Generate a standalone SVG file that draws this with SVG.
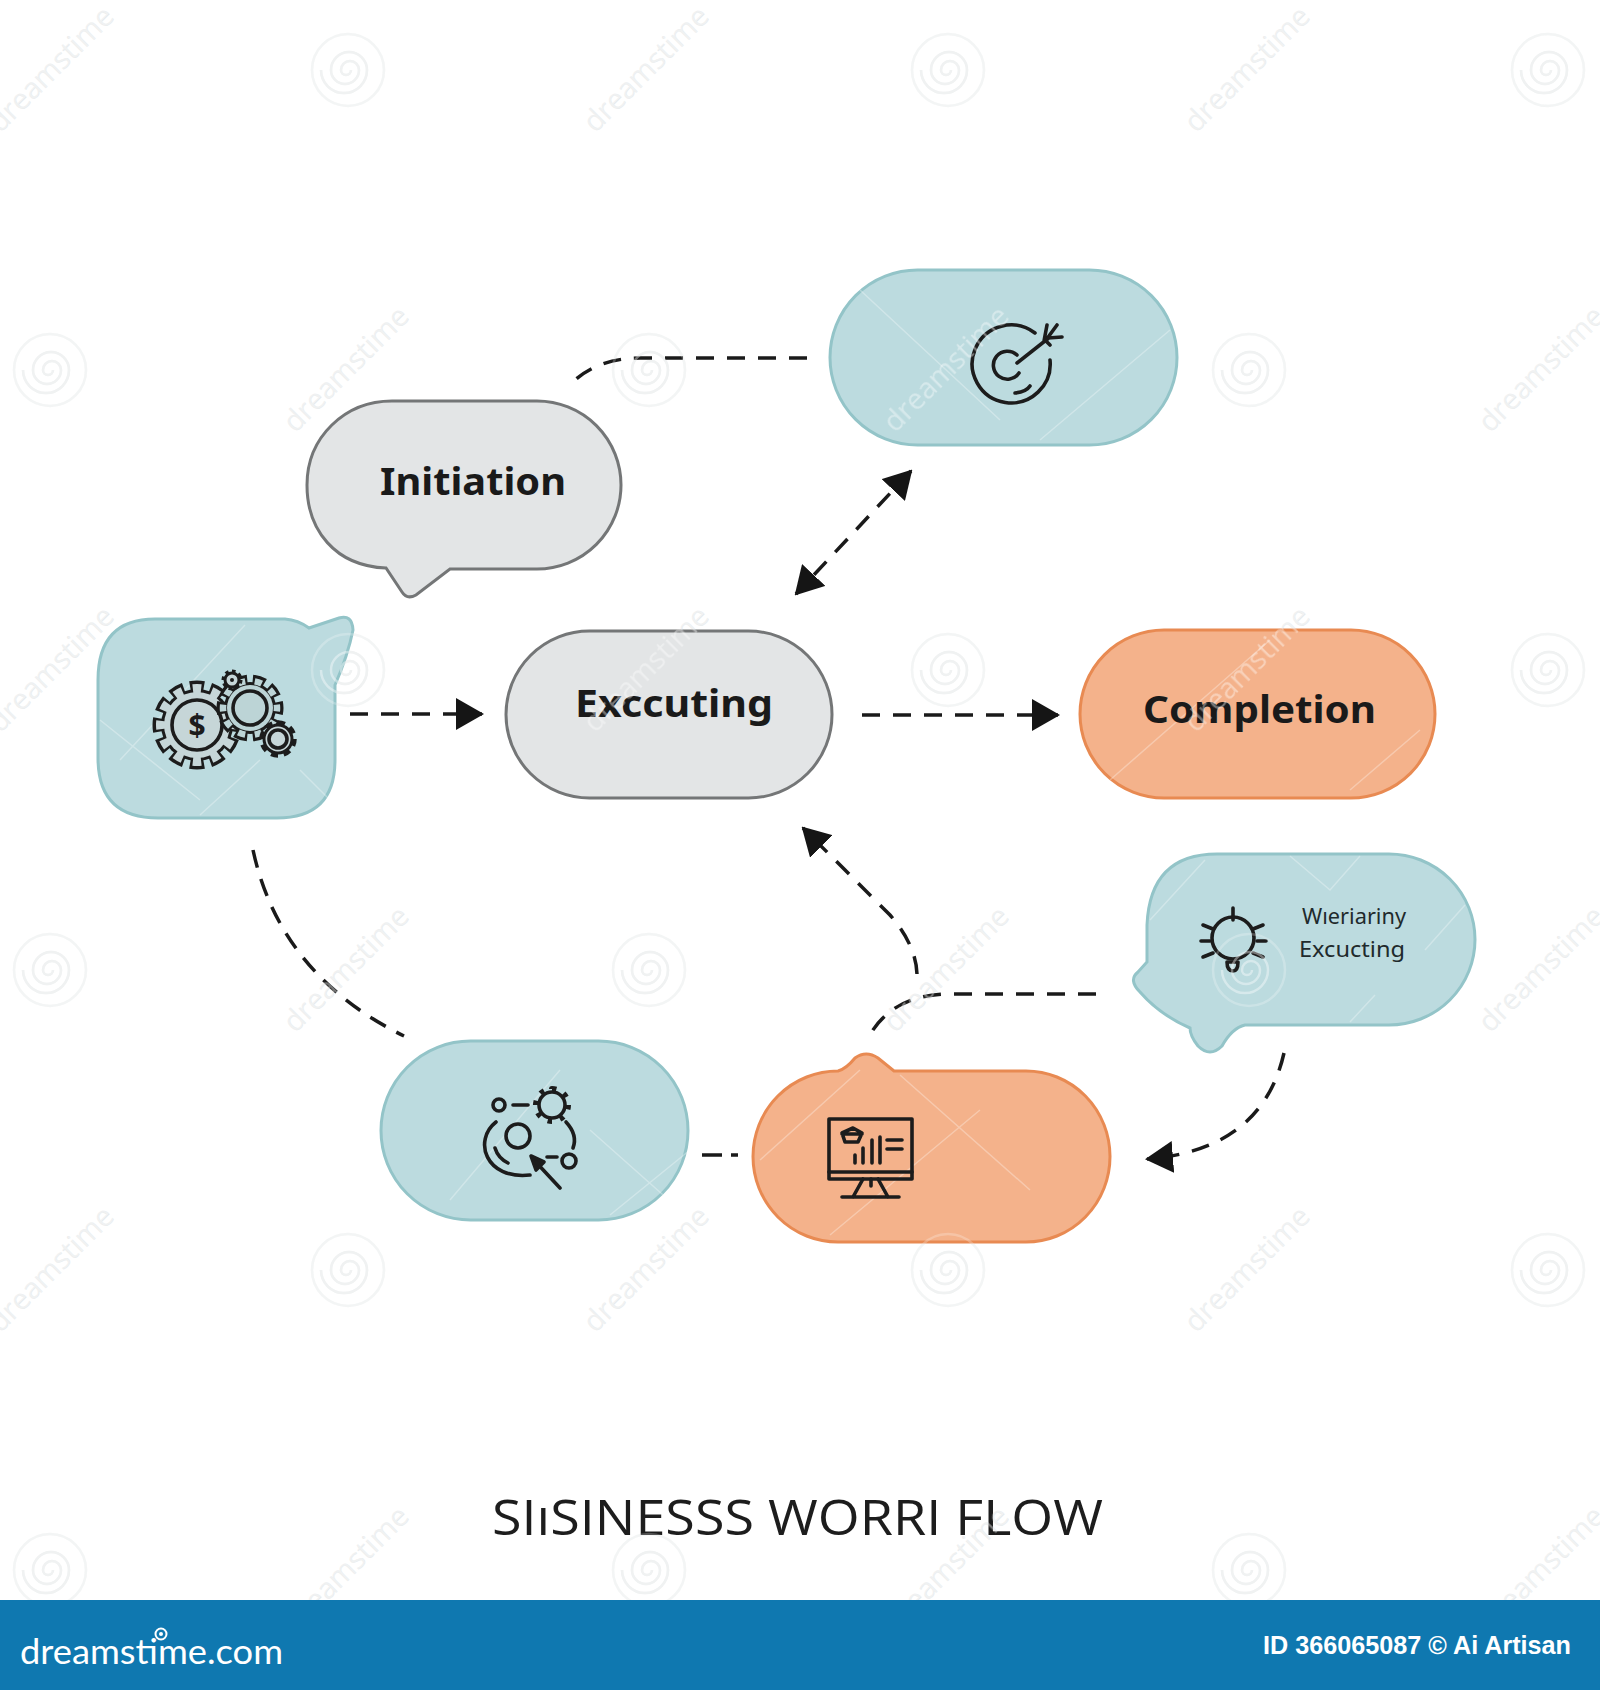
<svg xmlns="http://www.w3.org/2000/svg" xmlns:xlink="http://www.w3.org/1999/xlink" width="1600" height="1690" viewBox="0 0 1600 1690">
<style>
.teal{fill:#bcdbdf;stroke:#93c4c8;stroke-width:3}
.orange{fill:#f4b28b;stroke:#e88a52;stroke-width:3}
.gray{fill:#e3e5e6;stroke:#747677;stroke-width:3}
.conn{fill:none;stroke:#1a1a1a;stroke-width:3.5;stroke-dasharray:18 13}
.ic{fill:none;stroke:#1c1c1c;stroke-width:3.6;stroke-linecap:round;stroke-linejoin:round}
.lab{font-family:"Noto Sans","Liberation Sans",sans-serif;font-weight:700;fill:#1a1a1a}
.small{font-family:"Noto Sans","Liberation Sans",sans-serif;font-size:22px;fill:#1f2a2c}
.sheen{stroke:#fff;stroke-width:1.5;opacity:.3;fill:none}
.wmt{font-family:"Open Sans","Liberation Sans",sans-serif;font-size:29px;fill:currentColor}
.sp{fill:none;stroke:currentColor;stroke-width:2.5}
</style>
<defs>
<marker id="ah" markerUnits="userSpaceOnUse" markerWidth="28" markerHeight="32" viewBox="0 0 28 32" refX="26" refY="16" orient="auto-start-reverse"><path d="M0 0L28 16L0 32Z" fill="#151515"/></marker>
<g id="spi"><circle r="36" class="sp" opacity=".6"/><path class="sp" d="M3 0A5 5 0 0 1-7 0A9 9 0 0 1 11 0A14 14 0 0 1-17 0A18 18 0 0 1 19 0A23 23 0 0 1-27 0"/></g>
<g id="wm">
<use href="#spi" x="348" y="70"/><use href="#spi" x="948" y="70"/><use href="#spi" x="1548" y="70"/>
<use href="#spi" x="50" y="370"/><use href="#spi" x="649" y="370"/><use href="#spi" x="1249" y="370"/>
<use href="#spi" x="348" y="670"/><use href="#spi" x="948" y="670"/><use href="#spi" x="1548" y="670"/>
<use href="#spi" x="50" y="970"/><use href="#spi" x="649" y="970"/><use href="#spi" x="1249" y="970"/>
<use href="#spi" x="348" y="1270"/><use href="#spi" x="948" y="1270"/><use href="#spi" x="1548" y="1270"/>
<use href="#spi" x="50" y="1570"/><use href="#spi" x="649" y="1570"/><use href="#spi" x="1249" y="1570"/>
<text class="wmt" text-anchor="middle" transform="translate(58 76) rotate(-45)">dreamstime</text>
<text class="wmt" text-anchor="middle" transform="translate(653 76) rotate(-45)">dreamstime</text>
<text class="wmt" text-anchor="middle" transform="translate(1254 76) rotate(-45)">dreamstime</text>
<text class="wmt" text-anchor="middle" transform="translate(353 376) rotate(-45)">dreamstime</text>
<text class="wmt" text-anchor="middle" transform="translate(953 376) rotate(-45)">dreamstime</text>
<text class="wmt" text-anchor="middle" transform="translate(1548 376) rotate(-45)">dreamstime</text>
<text class="wmt" text-anchor="middle" transform="translate(58 676) rotate(-45)">dreamstime</text>
<text class="wmt" text-anchor="middle" transform="translate(653 676) rotate(-45)">dreamstime</text>
<text class="wmt" text-anchor="middle" transform="translate(1254 676) rotate(-45)">dreamstime</text>
<text class="wmt" text-anchor="middle" transform="translate(353 976) rotate(-45)">dreamstime</text>
<text class="wmt" text-anchor="middle" transform="translate(953 976) rotate(-45)">dreamstime</text>
<text class="wmt" text-anchor="middle" transform="translate(1548 976) rotate(-45)">dreamstime</text>
<text class="wmt" text-anchor="middle" transform="translate(58 1276) rotate(-45)">dreamstime</text>
<text class="wmt" text-anchor="middle" transform="translate(653 1276) rotate(-45)">dreamstime</text>
<text class="wmt" text-anchor="middle" transform="translate(1254 1276) rotate(-45)">dreamstime</text>
<text class="wmt" text-anchor="middle" transform="translate(353 1576) rotate(-45)">dreamstime</text>
<text class="wmt" text-anchor="middle" transform="translate(953 1576) rotate(-45)">dreamstime</text>
<text class="wmt" text-anchor="middle" transform="translate(1548 1576) rotate(-45)">dreamstime</text>
</g>
</defs>
<rect width="1600" height="1690" fill="#fff"/>
<use href="#wm" style="color:#e6e9ea"/>

<g id="connectors">
<path class="conn" d="M807 358H640Q600 358 575 380"/>
<path class="conn" d="M911 471L796 594" marker-start="url(#ah)" marker-end="url(#ah)"/>
<path class="conn" d="M350 714H482" marker-end="url(#ah)"/>
<path class="conn" d="M862 715H1058" marker-end="url(#ah)"/>
<path class="conn" d="M917 974Q916 945 890 915L803 828" marker-end="url(#ah)"/>
<path class="conn" d="M253 850Q280 975 404 1036" style="stroke-dasharray:18 12"/>
<path class="conn" d="M1096 994H950Q895 994 871 1033"/>
<path class="conn" d="M1284 1053Q1262 1150 1147 1159" marker-end="url(#ah)"/>
<path class="conn" d="M702 1155H738" style="stroke-dasharray:20 9"/>
</g>

<g id="node-target">
<rect class="teal" x="830" y="270" width="347" height="175" rx="87.5"/>
<path class="sheen" d="M860 290L1000 420M1040 440L1170 330"/>
<path class="ic" d="M1035 333A39 39 0 1 0 1050 360M1017 355A14 14 0 1 0 1019 373M1015 393Q1026 392 1030 386M1017 363L1050 337M1047 325L1044 341M1057 325L1046 340M1062 337L1048 338M1050 345L1045 340"/>
</g>

<g id="node-initiation">
<path class="gray" d="M392 401H537A84 84 0 0 1 537 569H450L416 595Q407 600 402 592L386 568C335 566 307 530 307 485C307 437 345 401 392 401Z"/>
<text class="lab" x="380" y="495" font-size="38" textLength="186" lengthAdjust="spacingAndGlyphs">Initiation</text>
</g>

<g id="node-gears">
<path class="teal" d="M155 619H285Q298 620 309 628L339 618Q352 614 353 630Q348 655 335 685V760Q335 818 277 818H158Q98 818 98 758V680Q98 619 155 619Z"/>
<path class="sheen" d="M245 625L120 760M100 720L200 800M260 760L200 815M300 770L330 800"/>
<g id="gear-b">
<circle cx="197" cy="725" r="36" fill="none" stroke="#1c1c1c" stroke-width="17" pathLength="120" stroke-dasharray="6.8 3.2" stroke-dashoffset="3.4"/>
<circle cx="197" cy="725" r="36" fill="#1c1c1c"/>
<circle cx="197" cy="725" r="36" fill="none" stroke="#c6d6d8" stroke-width="10" pathLength="120" stroke-dasharray="4.4 5.6" stroke-dashoffset="2.2"/>
<circle cx="197" cy="725" r="33" fill="#c6d6d8"/>
<circle class="ic" cx="197" cy="725" r="25"/>
<text x="197" y="736" text-anchor="middle" font-family="'Noto Sans','Liberation Sans',sans-serif" font-weight="700" font-size="30" fill="#1c1c1c">$</text>
</g>
<g id="gear-m">
<circle cx="250" cy="708" r="27" fill="none" stroke="#1c1c1c" stroke-width="13" pathLength="100" stroke-dasharray="6.8 3.2" stroke-dashoffset="3.4"/>
<circle cx="250" cy="708" r="26" fill="#1c1c1c"/>
<circle cx="250" cy="708" r="27" fill="none" stroke="#bcd4d6" stroke-width="6.5" pathLength="100" stroke-dasharray="4.2 5.8" stroke-dashoffset="2.1"/>
<circle cx="250" cy="708" r="23" fill="#bcd4d6"/>
<circle class="ic" cx="250" cy="708" r="17"/>
</g>
<g id="gear-s">
<circle cx="278" cy="739" r="15" fill="none" stroke="#1c1c1c" stroke-width="7.5" pathLength="80" stroke-dasharray="5.5 4.5"/>
<circle cx="278" cy="739" r="14" fill="#c6d6d8" stroke="#1c1c1c" stroke-width="3"/>
<circle class="ic" cx="278" cy="739" r="9"/>
</g>
<g id="gear-t">
<circle cx="232" cy="680" r="8" fill="none" stroke="#1c1c1c" stroke-width="5" pathLength="80" stroke-dasharray="5 5"/>
<circle cx="232" cy="680" r="7" fill="#c6d6d8" stroke="#1c1c1c" stroke-width="3"/>
<circle cx="232" cy="680" r="2" fill="#1c1c1c"/>
</g>
</g>

<g id="node-executing">
<rect class="gray" x="506" y="631" width="326" height="167" rx="83.5"/>
<text class="lab" x="575" y="717" font-size="38" textLength="198" lengthAdjust="spacingAndGlyphs">Exccuting</text>
</g>

<g id="node-completion">
<rect class="orange" x="1080" y="630" width="355" height="168" rx="84"/>
<path class="sheen" d="M1110 780L1270 640M1350 790L1420 730"/>
<text class="lab" x="1143" y="723" font-size="38" textLength="233" lengthAdjust="spacingAndGlyphs">Completion</text>
</g>

<g id="node-bulb">
<path class="teal" d="M1217 854H1389A86 85.5 0 0 1 1389 1025H1245Q1232 1028 1222 1046Q1210 1058 1198 1046Q1190 1036 1190 1028Q1160 1015 1140 992Q1128 980 1138 972L1147 962V925Q1150 854 1217 854Z"/>
<path class="sheen" d="M1150 920L1205 860M1290 856L1330 890L1360 856M1425 950L1465 905M1350 1022L1375 995"/>
<g class="ic">
<circle cx="1233" cy="938" r="21"/>
<path d="M1233 908V920M1203 925L1213 929M1201 941H1210M1203 957L1213 953M1263 925L1253 929M1257 941H1266M1253 953L1263 957M1227 962Q1227 971 1233 971Q1238 971 1238 962Z"/>
</g>
<text class="small" x="1302" y="924" textLength="104" lengthAdjust="spacingAndGlyphs">Wıeriariny</text>
<text class="small" x="1299" y="957" textLength="106" lengthAdjust="spacingAndGlyphs">Excucting</text>
</g>

<g id="node-process">
<rect class="teal" x="381" y="1041" width="307" height="179" rx="89.5"/>
<path class="sheen" d="M450 1200L560 1070M610 1215L690 1150M590 1130L680 1210"/>
<g class="ic">
<circle cx="499" cy="1105" r="6"/>
<path d="M513 1105H528"/>
<circle cx="552" cy="1105" r="13"/>
<circle cx="552" cy="1105" r="16" stroke-width="6" pathLength="80" stroke-dasharray="3.5 6.5" stroke-linecap="butt"/>
<path d="M566 1122Q578 1135 573 1148"/>
<circle cx="569" cy="1161" r="7"/>
<path d="M547 1157H557"/>
<circle cx="518" cy="1136" r="12"/>
<path d="M496 1122C473 1140 485 1180 530 1175M495 1148Q498 1158 508 1163M560 1188L533 1159"/>
<path d="M531 1156L544 1162L536 1170Z" fill="#1c1c1c"/>
</g>
</g>

<g id="node-monitor">
<path class="orange" d="M838 1071Q846 1069 855 1058Q866 1050 878 1058L894 1071H1026A84 85.5 0 0 1 1026 1242H838A85 85.5 0 0 1 838 1071Z"/>
<path class="sheen" d="M760 1160L860 1070M830 1235L980 1110M900 1075L1030 1190"/>
<g class="ic">
<rect x="829" y="1119" width="83" height="60"/>
<path d="M829 1172H912M863 1179L853 1197M878 1179L888 1197M842 1197H899M871 1179V1186"/>
<path d="M855 1163V1155M863 1163V1148M872 1163V1140M880 1163V1137M887 1140H902M887 1149H902"/>
<path d="M842 1133L853 1128L862 1133L858 1142H845ZM842 1134H862"/>
</g>
</g>

<text id="title" x="492" y="1535" font-family="'Open Sans','Liberation Sans',sans-serif" font-size="49" fill="#1d1d1d" textLength="611" lengthAdjust="spacingAndGlyphs">SIıSINESSS WORRI FLOW</text>

<use href="#wm" style="color:#fff" opacity=".4"/>

<g id="banner">
<rect y="1600" width="1600" height="90" fill="#0f78b0"/>
<circle cx="161" cy="1634" r="5.5" fill="none" stroke="#fff" stroke-width="2"/><circle cx="161" cy="1634" r="2" fill="#fff"/>
<text x="20" y="1664" font-family="Lato,'Noto Sans',sans-serif" font-size="34" fill="#fff" textLength="263" lengthAdjust="spacingAndGlyphs">dreamstime.com</text>
<text x="1263" y="1654" font-family="'Liberation Sans',sans-serif" font-weight="700" font-size="26" fill="#fff" textLength="308" lengthAdjust="spacingAndGlyphs">ID 366065087 © Ai Artisan</text>
</g>
</svg>
